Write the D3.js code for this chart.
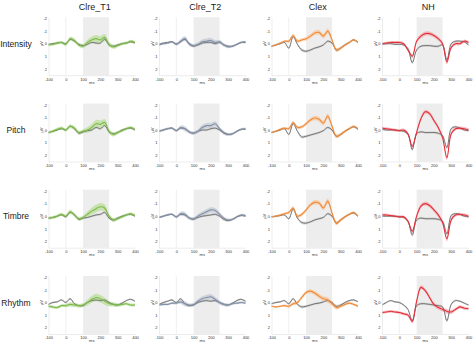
<!DOCTYPE html>
<html><head><meta charset="utf-8">
<script src="https://cdn.jsdelivr.net/npm/d3@7"></script>
<style>body{margin:0;background:#fff}svg{display:block}</style>
</head><body><svg id="c" width="474" height="342"></svg>
<script>
const times = [-100,-75,-50,-25,0,25,50,75,100,125,150,175,200,225,250,275,300,325,350,375,400];
const conditions = ["Clre_T1","Clre_T2","Clex","NH"];
const features = ["Intensity","Pitch","Timbre","Rhythm"];
const xTicks = [-100,0,100,200,300,400];
const yTicks = [-2,-1,0,1,2];
const analysisWindow = [100,250];

// gray (reference) waveform per condition, colored waveform per condition (µV)
const intensityGray = [
  [0.05,0,-0.05,-0.1,0.0,-0.35,-0.2,0.05,0.15,0.05,-0.1,-0.05,-0.05,-0.35,0.1,0.2,0.1,0.0,-0.05,-0.15,-0.05],
  [0.05,-0.05,-0.1,-0.15,0.0,-0.15,-0.35,0.05,0.2,0.1,-0.05,-0.1,-0.1,0.0,-0.1,0.1,0.2,0.2,0.05,-0.1,-0.1],
  [0.2,0.1,0.0,-0.1,0.35,-0.55,0.05,0.5,0.6,0.5,0.35,0.25,0.1,-0.2,-0.05,0.5,0.35,0.1,-0.1,-0.3,-0.1],
  [0.05,0.0,0.0,0.05,0.05,0.1,0.4,1.5,0.5,0.2,0.15,0.15,0.2,0.2,0.1,1.3,0.0,-0.2,-0.2,-0.15,0.1]
];
const intensityColor = [
  [0.1,0.05,-0.05,-0.1,0.05,-0.4,-0.25,0.1,0.2,-0.1,-0.3,-0.4,-0.3,-0.5,0.05,0.25,0.15,0.0,-0.05,-0.2,-0.1],
  [0.1,0.0,-0.05,-0.15,0.05,-0.2,-0.4,0.0,0.15,0.05,-0.15,-0.2,-0.25,-0.1,-0.15,0.1,0.25,0.2,0.05,-0.1,-0.15],
  [0.2,0.1,-0.05,-0.2,-0.2,-0.65,-0.2,-0.3,-0.4,-0.6,-0.85,-0.9,-0.6,-1.0,-0.3,0.5,0.35,0.1,-0.1,-0.3,-0.1],
  [0.0,-0.05,-0.1,-0.1,-0.1,0.0,0.5,1.0,-0.2,-0.6,-0.8,-0.8,-0.65,-0.4,0.0,1.45,0.3,0.0,0.0,-0.2,-0.1]
];
const pitchGray = [
  [0.2,0.1,0.0,-0.1,0.0,-0.3,-0.1,0.25,0.15,0.05,0.0,-0.2,-0.1,-0.35,0.15,0.3,0.2,0.0,-0.1,-0.15,0.0],
  [0.1,0.0,-0.1,-0.15,0.05,-0.15,-0.1,0.15,0.25,0.1,0.0,0.0,-0.1,-0.15,0.0,0.25,0.35,0.3,0.1,-0.05,-0.05],
  [0.2,0.1,0.0,-0.1,0.35,-0.5,0.1,0.55,0.5,0.4,0.3,0.2,0.05,-0.2,0.0,0.5,0.35,0.1,-0.1,-0.25,-0.05],
  [-0.05,0.0,0.0,0.0,0.05,0.1,0.35,1.55,0.3,0.15,0.2,0.2,0.2,0.25,0.45,1.4,-0.1,-0.25,-0.15,0.0,0.05]
];
const pitchColor = [
  [0.2,0.1,-0.05,-0.15,0.0,-0.3,-0.15,0.2,0.1,0.0,-0.2,-0.5,-0.45,-0.6,0.1,0.35,0.2,0.05,-0.1,-0.2,-0.05],
  [0.1,0.0,-0.1,-0.15,0.05,-0.2,-0.1,0.15,0.25,0.1,-0.2,-0.35,-0.35,-0.5,-0.1,0.2,0.35,0.3,0.1,-0.05,-0.1],
  [0.2,0.1,-0.05,-0.15,-0.1,-0.6,-0.2,-0.25,-0.5,-0.8,-0.95,-0.85,-0.55,-1.1,-0.3,0.5,0.35,0.1,-0.1,-0.3,-0.1],
  [-0.15,-0.1,-0.05,0.0,0.05,0.0,0.3,1.3,0.2,-0.9,-1.45,-1.3,-0.75,-0.2,0.6,2.2,0.3,-0.1,-0.15,-0.1,0.0]
];
const timbreGray = [
  [0.15,0.1,0.0,-0.1,0.05,-0.3,-0.1,0.25,0.15,0.1,0.0,-0.1,-0.15,-0.3,0.15,0.3,0.15,0.0,-0.1,-0.15,0.0],
  [0.1,0.0,-0.1,-0.15,0.05,-0.15,-0.1,0.15,0.25,0.1,0.0,-0.05,-0.1,-0.15,0.0,0.25,0.35,0.25,0.05,-0.05,0.0],
  [0.05,0.0,-0.05,-0.1,0.2,-0.55,0.15,0.5,0.55,0.45,0.3,0.2,0.1,-0.2,0.0,0.55,0.3,0.05,-0.15,-0.25,0.0],
  [0.0,0.0,0.0,0.0,0.05,0.1,0.4,1.5,0.3,0.15,0.2,0.2,0.2,0.25,0.4,1.4,-0.05,-0.2,-0.15,0.0,0.05]
];
const timbreColor = [
  [0.15,0.1,0.0,-0.15,0.0,-0.35,-0.1,0.2,0.1,-0.15,-0.4,-0.6,-0.75,-0.65,0.0,0.3,0.2,0.05,-0.1,-0.2,-0.05],
  [0.1,0.0,-0.1,-0.15,0.05,-0.2,-0.15,0.15,0.2,0.0,-0.2,-0.35,-0.5,-0.45,-0.15,0.15,0.3,0.25,0.05,-0.1,-0.05],
  [0.05,0.0,-0.1,-0.2,-0.3,-0.65,0.0,-0.15,-0.5,-0.9,-1.1,-1.05,-0.65,-1.2,-0.25,0.55,0.3,0.05,-0.15,-0.3,0.0],
  [-0.1,-0.1,-0.05,0.0,0.05,0.05,0.4,1.2,0.0,-0.8,-1.0,-0.85,-0.5,-0.1,0.5,1.8,0.3,-0.1,-0.15,-0.1,0.0]
];
const rhythmGray = [
  [0.15,0.0,-0.05,-0.2,0.0,-0.3,0.1,0.25,0.25,0.0,-0.15,-0.2,-0.15,-0.2,0.0,0.15,0.2,0.05,-0.15,-0.25,-0.1],
  [0.15,0.0,-0.1,-0.2,0.0,-0.3,0.1,0.25,0.2,0.0,-0.1,-0.15,-0.1,-0.15,0.0,0.15,0.2,0.05,-0.15,-0.25,-0.1],
  [0.1,0.0,-0.05,-0.15,0.1,-0.3,0.15,0.35,0.3,0.2,0.1,0.05,-0.05,-0.15,0.0,0.3,0.2,0.0,-0.15,-0.2,-0.05],
  [0.2,0.0,-0.15,-0.05,0.0,0.2,0.55,1.45,0.25,0.1,0.1,0.15,0.2,0.25,0.35,1.45,0.15,-0.15,-0.1,0.05,0.2]
];
const rhythmColor = [
  [0.3,0.35,0.4,0.25,0.25,0.15,0.2,0.25,0.2,0.0,-0.25,-0.4,-0.3,-0.1,0.1,0.15,0.2,0.15,0.1,0.2,0.2],
  [0.2,0.15,0.15,0.05,0.05,-0.05,0.1,0.2,0.15,-0.1,-0.3,-0.4,-0.45,-0.25,0.0,0.15,0.2,0.1,0.05,0.0,0.05],
  [0.3,0.35,0.3,0.25,0.3,0.1,0.0,-0.4,-0.8,-0.9,-0.75,-0.5,-0.3,-0.2,0.1,0.4,0.3,0.15,0.05,0.15,0.3],
  [0.8,0.75,0.7,0.75,0.8,0.9,1.0,1.5,-0.1,-1.2,-0.95,-0.4,0.15,0.4,0.55,0.7,0.75,0.55,0.35,0.45,0.5]
];
// standard-error half widths
const seGray = [0.07,0.07,0.07,0.07,0.08,0.08,0.09,0.12,0.1,0.09,0.09,0.09,0.09,0.1,0.1,0.12,0.1,0.08,0.07,0.07,0.07];
const seColor = [
  [0.12,0.12,0.12,0.12,0.13,0.16,0.16,0.14,0.16,0.22,0.27,0.3,0.3,0.27,0.2,0.16,0.13,0.12,0.12,0.12,0.12],
  [0.09,0.09,0.09,0.09,0.11,0.16,0.19,0.13,0.13,0.16,0.19,0.21,0.21,0.19,0.16,0.13,0.11,0.09,0.09,0.09,0.09],
  [0.08,0.08,0.08,0.09,0.11,0.13,0.13,0.13,0.14,0.16,0.18,0.19,0.19,0.21,0.18,0.16,0.13,0.11,0.09,0.09,0.09],
  [0.11,0.11,0.11,0.11,0.11,0.11,0.13,0.16,0.16,0.16,0.16,0.16,0.16,0.16,0.16,0.19,0.16,0.13,0.13,0.13,0.13]
];

const grayData = [intensityGray, pitchGray, timbreGray, rhythmGray];
const colorData = [intensityColor, pitchColor, timbreColor, rhythmColor];

const lineColors = ["#7cba4c","#8391a7","#f08a38","#e3303b"];
const bandColors = ["#b6dd93","#bdc5d2","#f8c497","#f3a5ab"];
const grayLine = "#767676", grayBand = "#c4c4c4";

const colLeft = [48.5,159,271.5,382];
const rowZeroMinus2 = [18.5,104.8,191,277.3];
const pw = 86.5, unit = 12.6;
const yDom = [-2.1,2.5];
const font = "Liberation Sans, Arial, sans-serif";

const svg = d3.select("#c");
const x = d3.scaleLinear().domain([-100,400]).range([0,pw]);
const y = d3.scaleLinear().domain(yDom).range([0,(yDom[1]-yDom[0])*unit]);
const ph = y(yDom[1]);

const line = d3.line().x((d,i)=>x(times[i])).y(d=>y(d)).curve(d3.curveCatmullRom.alpha(0.5));
const area = d3.area().x((d,i)=>x(times[i])).y0(d=>y(d[0]-d[1])).y1(d=>y(d[0]+d[1])).curve(d3.curveCatmullRom.alpha(0.5));
const fmt = d => String(d);

conditions.forEach((c,j)=>{
  svg.append("text").attr("x",colLeft[j]+pw/2+3).attr("y",10)
    .attr("text-anchor","middle").attr("font-family",font)
    .attr("font-size",9).attr("fill","#222").text(c);
});

features.forEach((f,i)=>{
  const top = rowZeroMinus2[i] - (-2 - yDom[0])*unit;
  svg.append("text").attr("x",16).attr("y",top+y(0)+3)
    .attr("text-anchor","middle").attr("font-family",font)
    .attr("font-size",8.5).attr("fill","#222").text(f);
  conditions.forEach((c,j)=>{
    const g = svg.append("g").attr("transform",`translate(${colLeft[j]},${top})`);
    g.append("rect").attr("x",x(analysisWindow[0])).attr("y",0)
      .attr("width",x(analysisWindow[1])-x(analysisWindow[0])).attr("height",ph).attr("fill","#ededed");
    g.append("line").attr("x1",x(0)).attr("x2",x(0)).attr("y1",0).attr("y2",ph)
      .attr("stroke","#e4e4e4").attr("stroke-width",0.6);
    const gv = grayData[i][j], cv = colorData[i][j];
    g.append("path").attr("d",area(gv.map((v,k)=>[v,seGray[k]]))).attr("fill",grayBand).attr("opacity",0.7);
    g.append("path").attr("d",area(cv.map((v,k)=>[v,seColor[j][k]]))).attr("fill",bandColors[j]).attr("opacity",0.7);
    g.append("path").attr("d",line(gv)).attr("fill","none").attr("stroke",grayLine).attr("stroke-width",1);
    g.append("path").attr("d",line(cv)).attr("fill","none").attr("stroke",lineColors[j]).attr("stroke-width",1.1);

    const ax = g.append("g").attr("transform",`translate(0,${ph})`)
      .call(d3.axisBottom(x).tickValues(xTicks).tickFormat(fmt).tickSize(0).tickPadding(2.5));
    ax.select(".domain").attr("stroke","#d8d8d8").attr("stroke-width",0.5);
    ax.selectAll("text").attr("font-size",4).attr("fill","#333").attr("font-family",font);
    const ay = g.append("g").call(d3.axisLeft(y).tickValues(yTicks).tickFormat(fmt).tickSize(0).tickPadding(1.5));
    ay.select(".domain").attr("stroke","#d8d8d8").attr("stroke-width",0.5);
    ay.selectAll("text").attr("font-size",4).attr("fill","#333").attr("font-family",font);
    g.append("text").attr("x",pw/2).attr("y",ph+8.5).attr("text-anchor","middle")
      .attr("font-size",4).attr("fill","#333").attr("font-family",font).text("ms");
    g.append("text").attr("transform",`translate(-5.5,${y(0)}) rotate(-90)`).attr("text-anchor","middle")
      .attr("font-size",4).attr("fill","#333").attr("font-family",font).text("µV");
  });
});
</script></body></html>
